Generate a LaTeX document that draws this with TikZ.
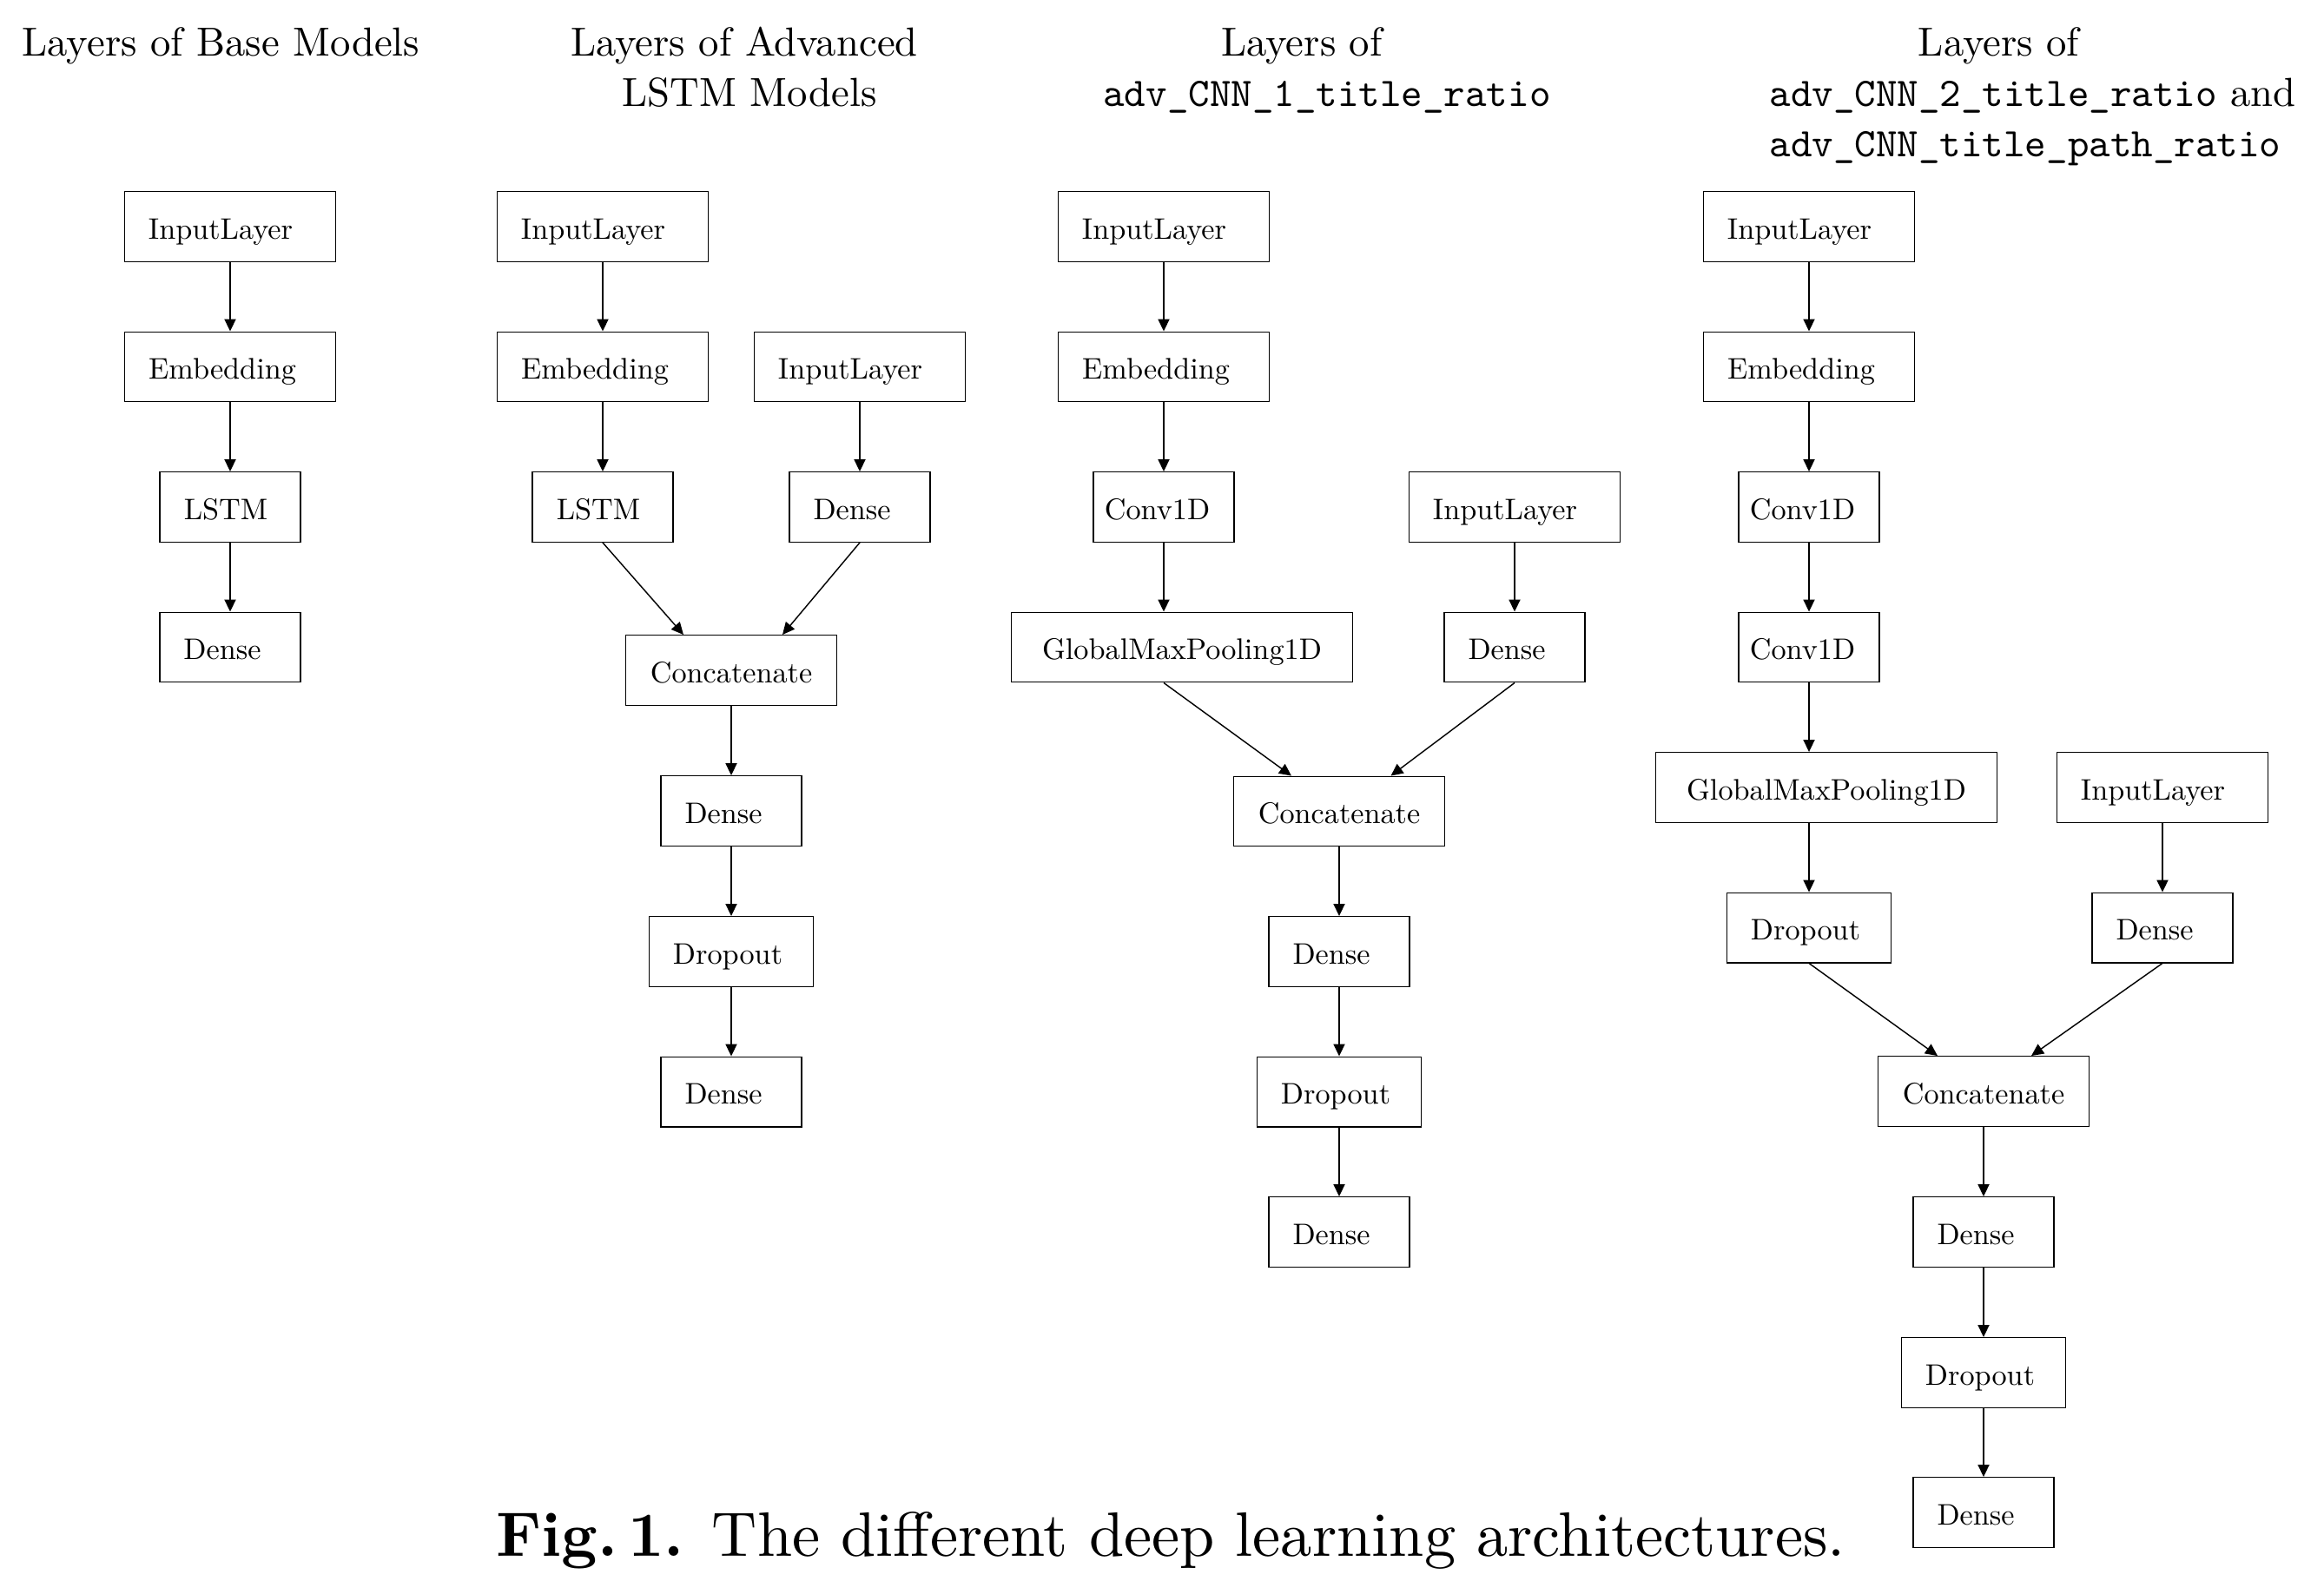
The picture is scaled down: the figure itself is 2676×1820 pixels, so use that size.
\documentclass[tikz,border=0pt]{standalone}
\usepackage{fontspec}
\setmainfont{lmroman10-regular}[Extension=.otf, BoldFont=lmroman10-bold]
\setmonofont{lmmono10-regular}[Extension=.otf]
\usetikzlibrary{arrows.meta,calc}
\newcommand\tIn{InputLayer\hspace*{6.9pt}}
\newcommand\tEmb{Embedding\hspace*{5.6pt}}
\newcommand\tConv{Conv1D\hspace*{4.7pt}}
\newcommand\tLSTM{LSTM\hspace*{3.1pt}}
\newcommand\tDense{Dense\hspace*{5.6pt}}
\newcommand\tDrop{Dropout\hspace*{2.5pt}}
\newcommand\tCat{Concatenate}
\newcommand\tGmp{GlobalMaxPooling1D}
\begin{document}
\begin{tikzpicture}[x=0.3125pt,y=-0.3125pt,
  lay/.style={draw, line width=0.45pt, rectangle, inner sep=0pt, minimum height=25.16pt, text height=9pt, text depth=0pt, font=\fontsize{10.7}{12.8}\selectfont},
  wA/.style={minimum width=75.94pt},
  wB/.style={minimum width=50.63pt},
  wC/.style={minimum width=59.06pt},
  wD/.style={minimum width=122.8pt},
  edge/.style={line width=0.45pt, -{Triangle[length=4.375pt,width=4.1pt]}},
  ttl/.style={anchor=base, inner sep=0pt, font=\fontsize{14.6}{18}\selectfont}]
\fill[white] (0,0) rectangle (2676,1820);
\useasboundingbox (0,0) rectangle (2676,1820);

% titles
\node[ttl] (t1) at (254.5,64) {Layers of Base Models};
\node[ttl] (t2a) at (857,64) {Layers of Advanced};
\node[ttl] (t2b) at (863,122) {LSTM Models};
\node[ttl] (t3a) at (1499,64) {Layers of};
\node[ttl] (t3b) at (1528,122) {\texttt{adv\_CNN\_1\_title\_ratio}};
\node[ttl] (t4a) at (2301.5,64) {Layers of};
\node[ttl,anchor=base west] (t4b) at (2037,122) {\texttt{adv\_CNN\_2\_title\_ratio} and};
\node[ttl,anchor=base west] (t4c) at (2037,180) {\texttt{adv\_CNN\_title\_path\_ratio}};

% column 1
\node[lay,wA] (in1) at (265,261) {\tIn};
\node[lay,wA] (emb1) at (265,422.5) {\tEmb};
\node[lay,wB] (lstm1) at (265,584) {\tLSTM};
\node[lay,wB] (d1) at (265,745.5) {\tDense};
\draw[edge] (in1.south) -- (emb1.north);
\draw[edge] (emb1.south) -- (lstm1.north);
\draw[edge] (lstm1.south) -- (d1.north);

% column 2
\node[lay,wA] (in2) at (694,261) {\tIn};
\node[lay,wA] (emb2) at (694,422.5) {\tEmb};
\node[lay,wB] (lstm2) at (694,584) {\tLSTM};
\node[lay,wA] (in2b) at (990,422.5) {\tIn};
\node[lay,wB] (de2b) at (990,584) {\tDense};
\node[lay,wA] (cat2) at (842,772) {\tCat};
\node[lay,wB] (d2) at (842,934) {\tDense};
\node[lay,wC] (dr2) at (842,1096) {\tDrop};
\node[lay,wB] (dd2) at (842,1257.5) {\tDense};
\draw[edge] (in2.south) -- (emb2.north);
\draw[edge] (emb2.south) -- (lstm2.north);
\draw[edge] (in2b.south) -- (de2b.north);
\draw[edge] (lstm2.south) -- ($(cat2.north)+(-55,0)$);
\draw[edge] (de2b.south) -- ($(cat2.north)+(59,0)$);
\draw[edge] (cat2.south) -- (d2.north);
\draw[edge] (d2.south) -- (dr2.north);
\draw[edge] (dr2.south) -- (dd2.north);

% column 3
\node[lay,wA] (in3) at (1340,261) {\tIn};
\node[lay,wA] (emb3) at (1340,422.5) {\tEmb};
\node[lay,wB] (conv3) at (1340,584) {\tConv};
\node[lay,wD] (gmp3) at (1361,745.5) {\tGmp};
\node[lay,wA] (in3b) at (1744,584) {\tIn};
\node[lay,wB] (de3b) at (1744,745.5) {\tDense};
\node[lay,wA] (cat3) at (1542,934.5) {\tCat};
\node[lay,wB] (d3) at (1542,1096) {\tDense};
\node[lay,wC] (dr3) at (1542,1257.5) {\tDrop};
\node[lay,wB] (dd3) at (1542,1419) {\tDense};
\draw[edge] (in3.south) -- (emb3.north);
\draw[edge] (emb3.south) -- (conv3.north);
\draw[edge] (conv3.south) -- (conv3.south |- gmp3.north);
\draw[edge] (in3b.south) -- (de3b.north);
\draw[edge] (conv3.south |- gmp3.south) -- ($(cat3.north)+(-55,0)$);
\draw[edge] (de3b.south) -- ($(cat3.north)+(59.5,0)$);
\draw[edge] (cat3.south) -- (d3.north);
\draw[edge] (d3.south) -- (dr3.north);
\draw[edge] (dr3.south) -- (dd3.north);

% column 4
\node[lay,wA] (in4) at (2083,261) {\tIn};
\node[lay,wA] (emb4) at (2083,422.5) {\tEmb};
\node[lay,wB] (cv4a) at (2083,584) {\tConv};
\node[lay,wB] (cv4b) at (2083,745.5) {\tConv};
\node[lay,wD] (gmp4) at (2103,907) {\tGmp};
\node[lay,wC] (dp4) at (2083,1068.5) {\tDrop};
\node[lay,wA] (in4b) at (2490,907) {\tIn};
\node[lay,wB] (de4b) at (2490,1068.5) {\tDense};
\node[lay,wA] (cat4) at (2284,1257) {\tCat};
\node[lay,wB] (d4) at (2284,1419) {\tDense};
\node[lay,wC] (dr4) at (2284,1581) {\tDrop};
\node[lay,wB] (dd4) at (2284,1742) {\tDense};
\draw[edge] (in4.south) -- (emb4.north);
\draw[edge] (emb4.south) -- (cv4a.north);
\draw[edge] (cv4a.south) -- (cv4b.north);
\draw[edge] (cv4b.south) -- (cv4b.south |- gmp4.north);
\draw[edge] (dp4.north |- gmp4.south) -- (dp4.north);
\draw[edge] (in4b.south) -- (de4b.north);
\draw[edge] (dp4.south) -- ($(cat4.north)+(-53,0)$);
\draw[edge] (de4b.south) -- ($(cat4.north)+(55,0)$);
\draw[edge] (cat4.south) -- (d4.north);
\draw[edge] (d4.south) -- (dr4.north);
\draw[edge] (dr4.south) -- (dd4.north);

% caption
\node[anchor=base, inner sep=0pt, font=\fontsize{22.6}{27}\selectfont] (cap) at (1348,1792) {\textbf{Fig.\,1.} The different deep learning architectures.};
\end{tikzpicture}
\end{document}
